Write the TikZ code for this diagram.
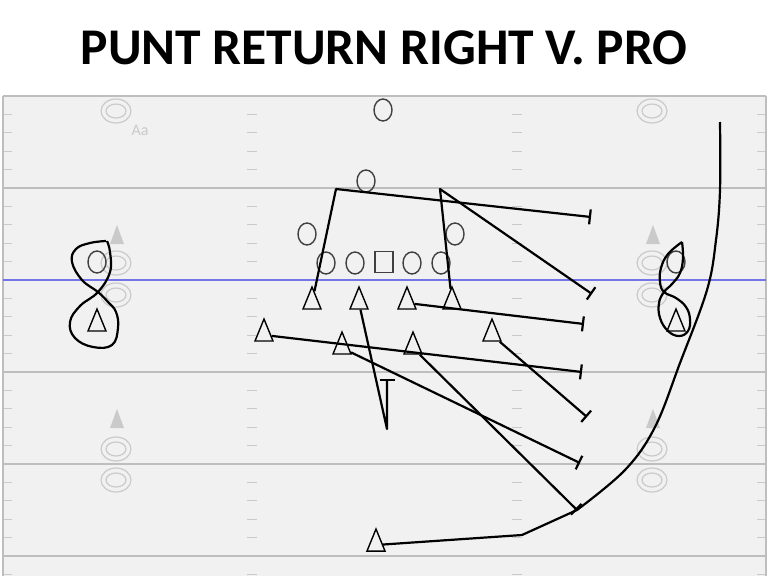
\documentclass[tikz,border=0pt]{standalone}
\usepackage{fontspec}
\newfontfamily\titlefont{Carlito}
\usepackage{tikz}
\usetikzlibrary{positioning}
\usetikzlibrary{arrows,arrows.meta,shapes}
\definecolor{fieldgray}{RGB}{241,241,241}
\definecolor{linegray}{RGB}{190,190,190}
\definecolor{markgray}{RGB}{202,202,202}
\definecolor{losblue}{RGB}{116,116,232}
\tikzstyle{player}=[ellipse,draw=black!75,line width=1.4pt,minimum width=18pt,minimum height=22pt,inner sep=0pt]
\tikzstyle{snapper}=[rectangle,draw=black!75,line width=1.4pt,minimum width=18pt,minimum height=21pt,inner sep=0pt]
\tikzstyle{defender}=[isosceles triangle,isosceles triangle stretches,shape border rotate=90,draw=black,line width=1.4pt,minimum width=18pt,minimum height=22pt,inner sep=0pt,yshift=-4pt]
\tikzstyle{route}=[draw,line width=2.2pt,line join=round]
\tikzstyle{block}=[route,-{Bar[width=15pt]}]
\tikzstyle{yardline}=[draw=linegray,line width=1.6pt]
\tikzstyle{hashmark}=[draw=markgray,line width=1.2pt]
\tikzstyle{yardnum}=[draw=markgray,line width=1.2pt]

\begin{document}
\begin{tikzpicture}[x=1pt,y=-1pt]
  \useasboundingbox (0,0) rectangle (768,576);

  % field
  \fill[fieldgray] (3,96) rectangle (766,576);
  \draw[yardline] (3,96) -- (3,576);
  \draw[yardline] (766,96) -- (766,576);
  \draw[yardline] (3,96) -- (766,96);
  \foreach \y in {188,372,464,556}
    \draw[yardline] (3,\y) -- (766,\y);
  \draw[losblue,line width=2.6pt] (3,280) -- (766,280);

  % hash marks
  \foreach \xa/\xb in {4/12, 247/257, 512/522, 757/765}
    \foreach \j in {0,...,5}
      \foreach \i in {1,...,4}
        \draw[hashmark] (\xa,96+92*\j+18.4*\i) -- (\xb,96+92*\j+18.4*\i);

  % numbers and arrows
  \foreach \x in {116,652}{
    \foreach \y in {111,263,295,449,480}{
      \draw[yardnum] (\x,\y) ellipse [x radius=15pt, y radius=12pt];
      \draw[yardnum] (\x,\y) ellipse [x radius=10pt, y radius=7pt];
    }
    \foreach \y in {235,419}
      \fill[markgray] (\x+1,\y-10) -- (\x+8,\y+9) -- (\x-6,\y+9) -- cycle;
  }
  \node[text=markgray,font=\titlefont\fontsize{16}{16}\selectfont] (aa) at (140,130) {Aa};

  \node[font=\titlefont\bfseries\fontsize{51.5}{56}\selectfont] (title) at (384,48) {PUNT RETURN RIGHT V. PRO};

  % punt team
  \foreach \pos/\name in {{(383,110)/p}, {(366,181)/pp}, {(307,234)/lw}, {(455,234)/rw}, {(326,263)/lt}, {(355,263)/lg}, {(412,263)/rg}, {(441,263)/rt}, {(97,262)/gl}, {(676,262)/gr}}
    \node[player] (\name) at \pos {};
  \node[snapper] (c) at (384,262) {};

  % return team
  \foreach \pos/\name in {{(312,299)/d1}, {(359,299)/d2}, {(407,299)/d3}, {(452,299)/d4}, {(264,331)/d5}, {(342,344)/d6}, {(413,344)/d7}, {(492,331)/d8}, {(97,321)/jl}, {(676,321)/jr}, {(376,541)/ret}}
    \node[defender] (\name) at \pos {};

  \coordinate (k1) at (336,189);
  \coordinate (e1) at (591,217);
  \coordinate (k4) at (440,189);
  \coordinate (e4) at (592,294);
  \coordinate (e3) at (584,324);
  \coordinate (e5) at (582,372);
  \coordinate (e8) at (587,417);
  \coordinate (e6) at (580,463);
  \coordinate (e7) at (577,510);
  \coordinate (k2) at (387,429);
  \coordinate (e2) at (387,379);
  \coordinate (k9) at (522,535);
  \coordinate (e9) at (720,122);

  % blocks
  \draw[block] (d1) -- (k1) -- (e1);
  \draw[block] (d4) -- (k4) -- (e4);
  \foreach \source/\dest in {d3/e3, d5/e5, d8/e8, d6/e6, d7/e7}
    \path[block] (\source) -- (\dest);
  \draw[block] (d2) -- (k2) -- (e2);

  % return
  \draw[route] (ret) -- (k9) -- plot[smooth,tension=0.6] coordinates {(577,510) (625,470) (655,427) (680,363) (707,290) (716,240) (720,190) (e9)};

  % jams on the gunners
  \draw[route] plot[smooth,tension=0.7] coordinates {(107,241) (110,252) (110,272) (98,292) (80,306) (70,322) (75,338) (93,347) (112,345) (118,328) (116,312) (108,302) (98,292) (82,280) (72,262) (76,249) (90,243) (106,241)};
  \draw[route] plot[smooth,tension=0.7] coordinates {(682,242) (683,258) (680,273) (672,284) (664,292) (659,303) (660,318) (668,331) (679,336) (688,331) (690,319) (686,307) (676,298) (664,292) (660,282) (661,268) (668,254) (682,242)};
\end{tikzpicture}
\end{document}
